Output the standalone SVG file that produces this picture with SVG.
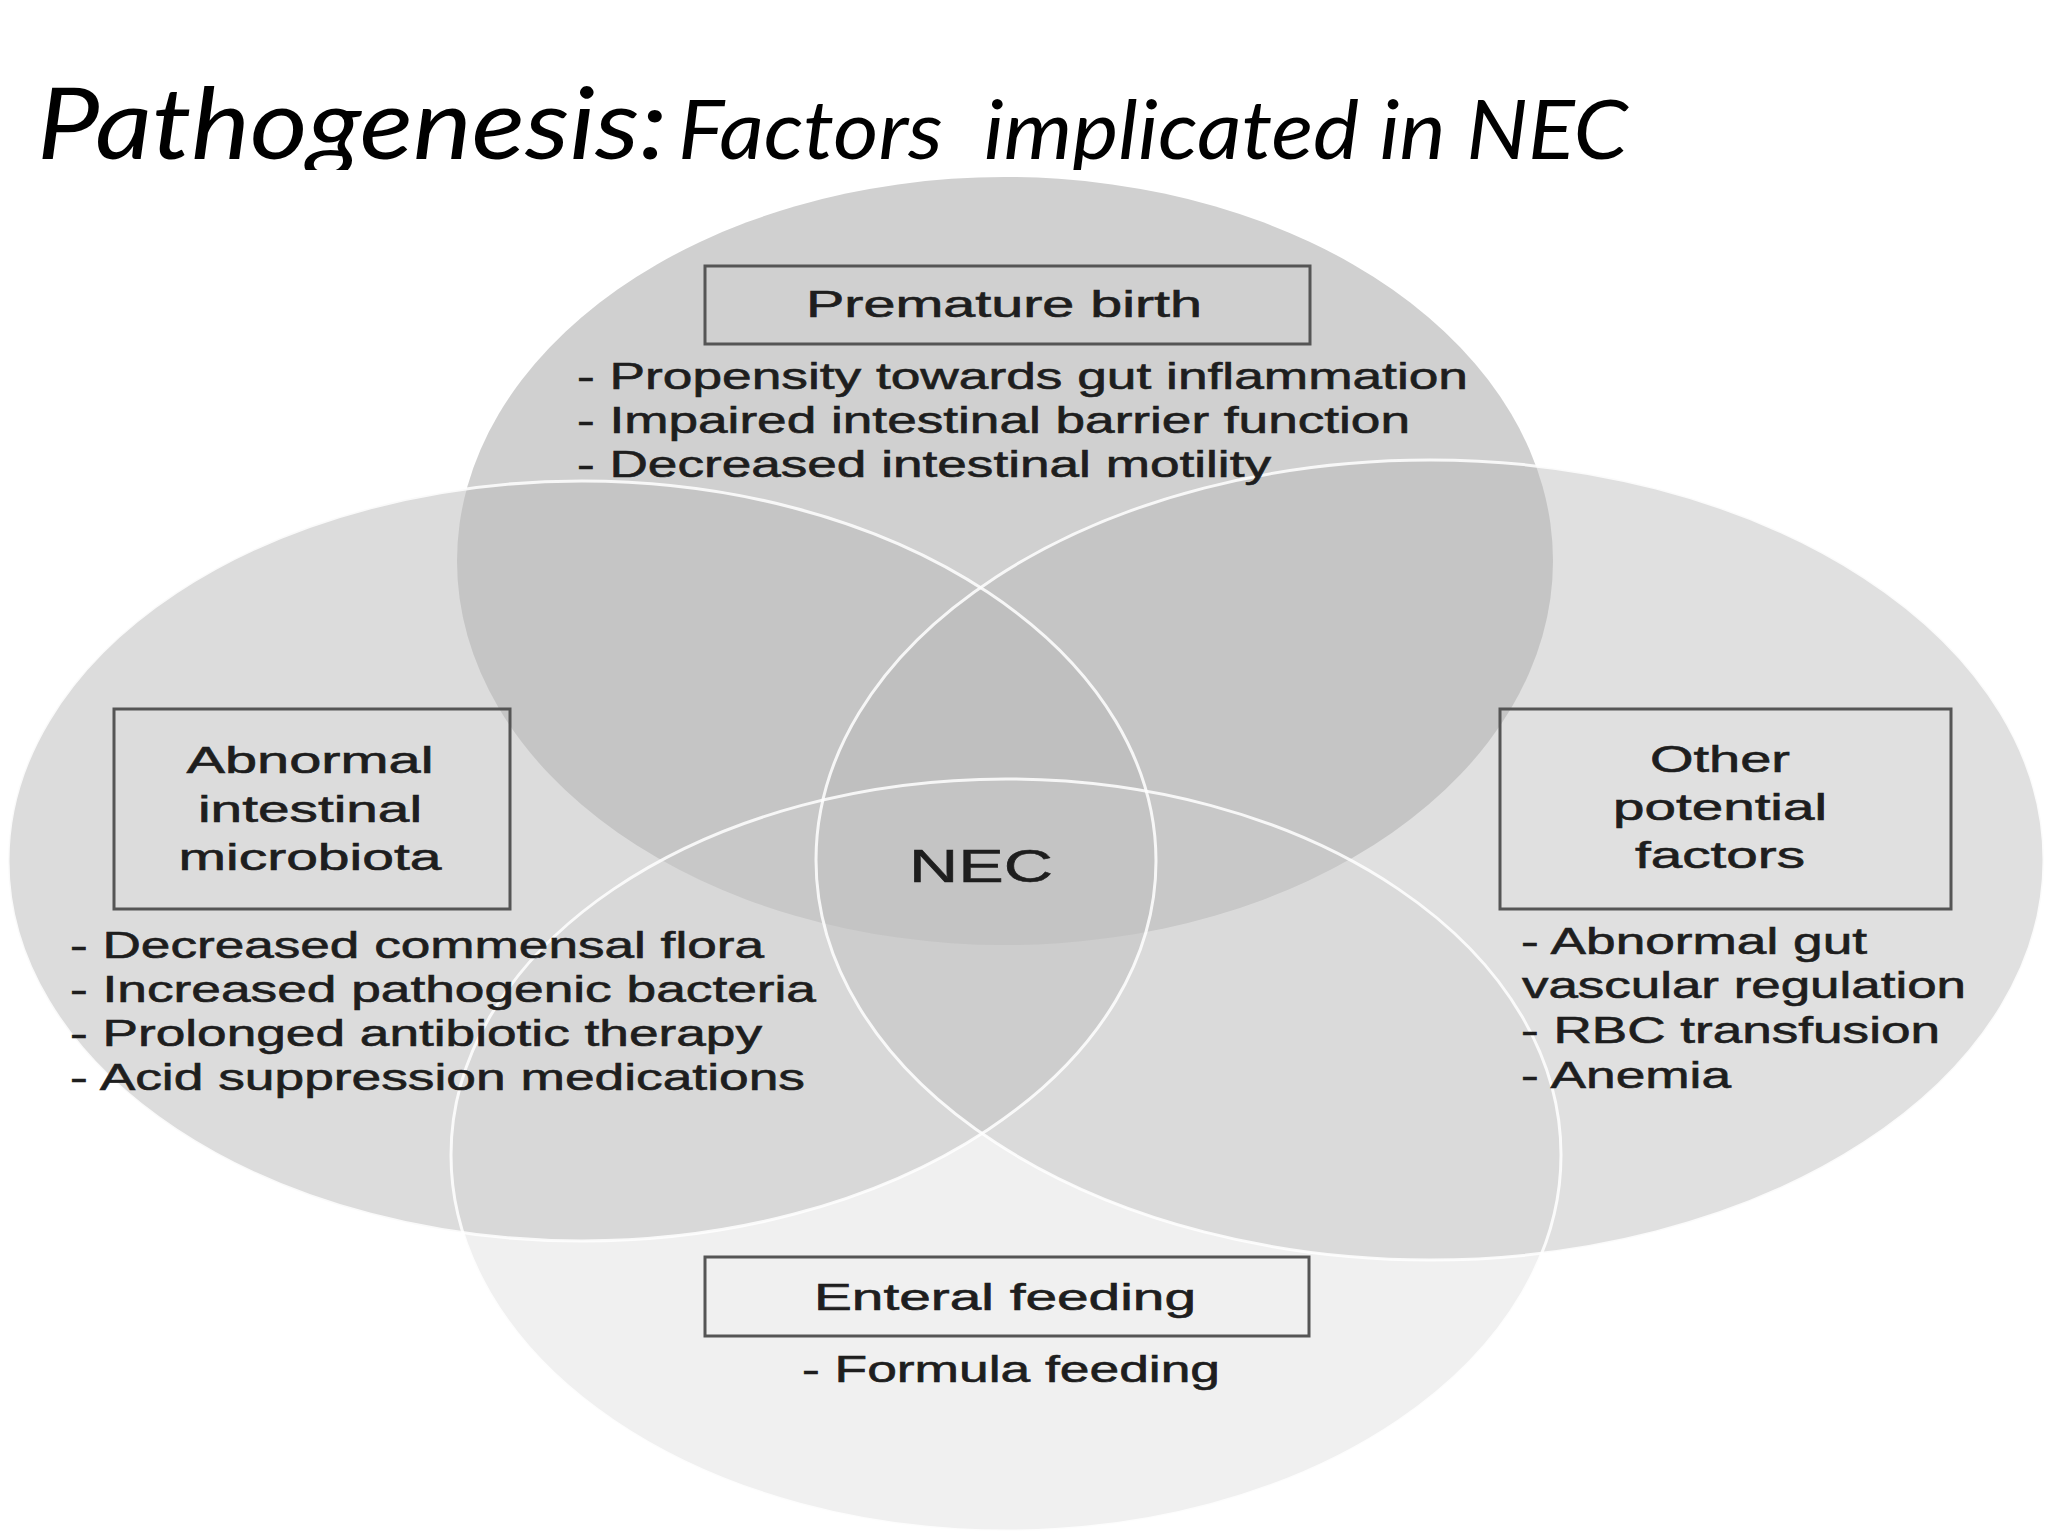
<svg xmlns="http://www.w3.org/2000/svg" width="2048" height="1536" viewBox="0 0 2048 1536">
  <defs>
    <clipPath id="titleClip"><rect x="0" y="0" width="2048" height="170"/></clipPath>
  </defs>
  <style>
    .lbl { font-family: "Liberation Sans", Arial, sans-serif; fill: #1e1e1e; stroke: #1e1e1e; stroke-width: 0.6; font-size: 36px; }
    .head { font-family: "Liberation Sans", Arial, sans-serif; fill: #1e1e1e; stroke: #1e1e1e; stroke-width: 0.6; font-size: 36px; text-anchor: middle; }
    .box { fill: none; stroke: #555555; stroke-width: 3; }
    .edge { fill: none; stroke: #ffffff; stroke-width: 3; stroke-opacity: 0.85; }
    .title { font-family: Lato, "Open Sans", sans-serif; font-style: italic; fill: #000000; white-space: pre; }
  </style>
  <rect width="2048" height="1536" fill="#ffffff"/>

  <g id="title" clip-path="url(#titleClip)">
    <text class="title" x="37" y="159" font-size="100" textLength="630" lengthAdjust="spacingAndGlyphs">Pathogenesis:</text>
    <text class="title" x="678" y="159" font-size="81" textLength="950" lengthAdjust="spacingAndGlyphs" xml:space="preserve">Factors  implicated in NEC</text>
  </g>

  <g id="circles">
    <ellipse id="c-top" cx="1005" cy="561" rx="548" ry="384" fill="#d0d0d0"/>
    <ellipse id="c-left" cx="582" cy="861" rx="574" ry="380" fill="#bcbcbc" fill-opacity="0.52"/>
    <ellipse id="c-right" cx="1430" cy="860" rx="614" ry="400" fill="#b8b8b8" fill-opacity="0.435"/>
    <ellipse id="c-bottom" cx="1006" cy="1155" rx="555" ry="376" fill="#cfcfcf" fill-opacity="0.31"/>
  </g>

  <g id="connectors">
    <ellipse class="edge" cx="582" cy="861" rx="574" ry="380"/>
    <ellipse class="edge" cx="1430" cy="860" rx="614" ry="400"/>
    <ellipse class="edge" cx="1006" cy="1155" rx="555" ry="376"/>
  </g>

  <g id="premature-birth">
    <rect class="box" x="705" y="266" width="605" height="78"/>
    <text class="head" x="1004" y="317" textLength="396" lengthAdjust="spacingAndGlyphs">Premature birth</text>
    <text class="lbl" x="577" y="389" textLength="891" lengthAdjust="spacingAndGlyphs">- Propensity towards gut inflammation</text>
    <text class="lbl" x="577" y="433" textLength="833" lengthAdjust="spacingAndGlyphs">- Impaired intestinal barrier function</text>
    <text class="lbl" x="577" y="477" textLength="694" lengthAdjust="spacingAndGlyphs">- Decreased intestinal motility</text>
  </g>

  <g id="microbiota">
    <rect class="box" x="114" y="709" width="396" height="200"/>
    <text class="head" x="310" y="773" textLength="247" lengthAdjust="spacingAndGlyphs">Abnormal</text>
    <text class="head" x="310" y="822" textLength="224" lengthAdjust="spacingAndGlyphs">intestinal</text>
    <text class="head" x="310" y="870" textLength="263" lengthAdjust="spacingAndGlyphs">microbiota</text>
    <text class="lbl" x="70" y="958" textLength="694" lengthAdjust="spacingAndGlyphs">- Decreased commensal flora</text>
    <text class="lbl" x="70" y="1002" textLength="746" lengthAdjust="spacingAndGlyphs">- Increased pathogenic bacteria</text>
    <text class="lbl" x="70" y="1046" textLength="692" lengthAdjust="spacingAndGlyphs">- Prolonged antibiotic therapy</text>
    <text class="lbl" x="70" y="1090" textLength="735" lengthAdjust="spacingAndGlyphs">- Acid suppression medications</text>
  </g>

  <g id="other-factors">
    <rect class="box" x="1500" y="709" width="451" height="200"/>
    <text class="head" x="1720" y="772" textLength="140" lengthAdjust="spacingAndGlyphs">Other</text>
    <text class="head" x="1720" y="820" textLength="214" lengthAdjust="spacingAndGlyphs">potential</text>
    <text class="head" x="1720" y="868" textLength="170" lengthAdjust="spacingAndGlyphs">factors</text>
    <text class="lbl" x="1521" y="954" textLength="346" lengthAdjust="spacingAndGlyphs">- Abnormal gut</text>
    <text class="lbl" x="1522" y="998" textLength="444" lengthAdjust="spacingAndGlyphs">vascular regulation</text>
    <text class="lbl" x="1521" y="1043" textLength="419" lengthAdjust="spacingAndGlyphs">- RBC transfusion</text>
    <text class="lbl" x="1521" y="1088" textLength="210" lengthAdjust="spacingAndGlyphs">- Anemia</text>
  </g>

  <g id="enteral-feeding">
    <rect class="box" x="705" y="1257" width="604" height="79"/>
    <text class="head" x="1005" y="1310" textLength="382" lengthAdjust="spacingAndGlyphs">Enteral feeding</text>
    <text class="lbl" x="802" y="1382" textLength="418" lengthAdjust="spacingAndGlyphs">- Formula feeding</text>
  </g>

  <g id="nec">
    <text class="head" x="981" y="882" font-size="46" textLength="144" lengthAdjust="spacingAndGlyphs" style="font-size:46px">NEC</text>
  </g>
</svg>
